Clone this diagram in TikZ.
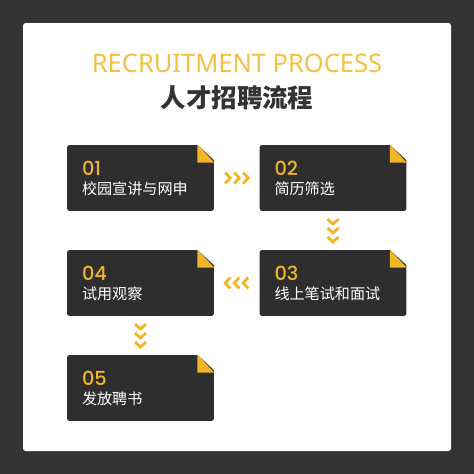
\documentclass[tikz,border=0pt]{standalone}
\usepackage{fontspec}
\setmainfont{Noto Sans CJK SC}
\newfontfamily\latinfont{Noto Sans}
\newfontfamily\numfont{Poppins}[UprightFont={* Medium}]
\usetikzlibrary{positioning}
\definecolor{bgdark}{HTML}{333333}
\definecolor{boxdark}{HTML}{2E2E2E}
\definecolor{gold}{HTML}{F3B526}
\definecolor{titlegold}{HTML}{F6C142}
\tikzset{
  stepbox/.style={rectangle,fill=boxdark,rounded corners=1.5pt,minimum width=2.94cm,minimum height=1.32cm,inner sep=0pt},
  stepnum/.style={anchor=west,inner sep=0pt,text=gold,font=\numfont\fontsize{11}{12}\selectfont},
  steptext/.style={anchor=west,inner sep=0pt,text=white,font=\fontsize{8.6}{10}\selectfont},
  chev/.style={draw=gold,line width=1.6pt}
}
\begin{document}
\begin{tikzpicture}[x=0.02cm,y=-0.02cm]
%Background
\fill[bgdark] (0,0) rectangle (474,474);
\fill[white,rounded corners=1.5pt] (23,23) rectangle (451,451);
\useasboundingbox (0,0) rectangle (474,474);
%Title
\node at (237,63) (title) {\latinfont\fontsize{14.5}{16}\selectfont\color{titlegold}RECRUITMENT PROCESS};
\node at (237,98) (subtitle) {\fontsize{14.5}{16}\selectfont\bfseries\color{bgdark}人才招聘流程};
%Steps
\node at (140.5,178)[stepbox] (b1) {};
\node at (333,178)[stepbox] (b2) {};
\node at (333,283)[stepbox] (b3) {};
\node at (140.5,283)[stepbox] (b4) {};
\node at (140.5,388)[stepbox] (b5) {};
%Folded corners
\foreach \b in {b1,b2,b3,b4,b5}{
  \fill[white] ([xshift=-0.34cm]\b.north east) -- ([xshift=0.05cm,yshift=0.05cm]\b.north east) -- ([xshift=0.05cm,yshift=-0.36cm]\b.north east) -- cycle;
  \fill[gold] ([xshift=-0.34cm]\b.north east) -- ([xshift=-0.34cm,yshift=-0.36cm]\b.north east) -- ([yshift=-0.36cm]\b.north east) -- cycle;
}
%Numbers
\node at ([xshift=0.3cm,yshift=0.2cm]b1.west)[stepnum] (n1) {01};
\node at ([xshift=0.3cm,yshift=0.2cm]b2.west)[stepnum] (n2) {02};
\node at ([xshift=0.3cm,yshift=0.2cm]b3.west)[stepnum] (n3) {03};
\node at ([xshift=0.3cm,yshift=0.2cm]b4.west)[stepnum] (n4) {04};
\node at ([xshift=0.3cm,yshift=0.2cm]b5.west)[stepnum] (n5) {05};
%Labels
\node at ([xshift=0.3cm,yshift=-0.22cm]b1.west)[steptext] (t1) {校园宣讲与网申};
\node at ([xshift=0.3cm,yshift=-0.22cm]b2.west)[steptext] (t2) {简历筛选};
\node at ([xshift=0.3cm,yshift=-0.22cm]b3.west)[steptext] (t3) {线上笔试和面试};
\node at ([xshift=0.3cm,yshift=-0.22cm]b4.west)[steptext] (t4) {试用观察};
\node at ([xshift=0.3cm,yshift=-0.22cm]b5.west)[steptext] (t5) {发放聘书};
%Chevrons
\path (b1.east) -- (b2.west) coordinate[pos=0.5] (m12);
\path (b2.south) -- (b3.north) coordinate[pos=0.5] (m23);
\path (b3.west) -- (b4.east) coordinate[pos=0.5] (m34);
\path (b4.south) -- (b5.north) coordinate[pos=0.5] (m45);
\foreach \d in {-9,0,9}{
  \draw[chev] (m12) ++(\d-2.5,-5.5) -- ++(5,5.5) -- ++(-5,5.5);
  \draw[chev] (m34) ++(\d+2.5,-5.5) -- ++(-5,5.5) -- ++(5,5.5);
  \draw[chev] (m23) ++(-5.5,\d-2.5) -- ++(5.5,5) -- ++(5.5,-5);
  \draw[chev] (m45) ++(-5.5,\d-2.5) -- ++(5.5,5) -- ++(5.5,-5);
}
\end{tikzpicture}
\end{document}
